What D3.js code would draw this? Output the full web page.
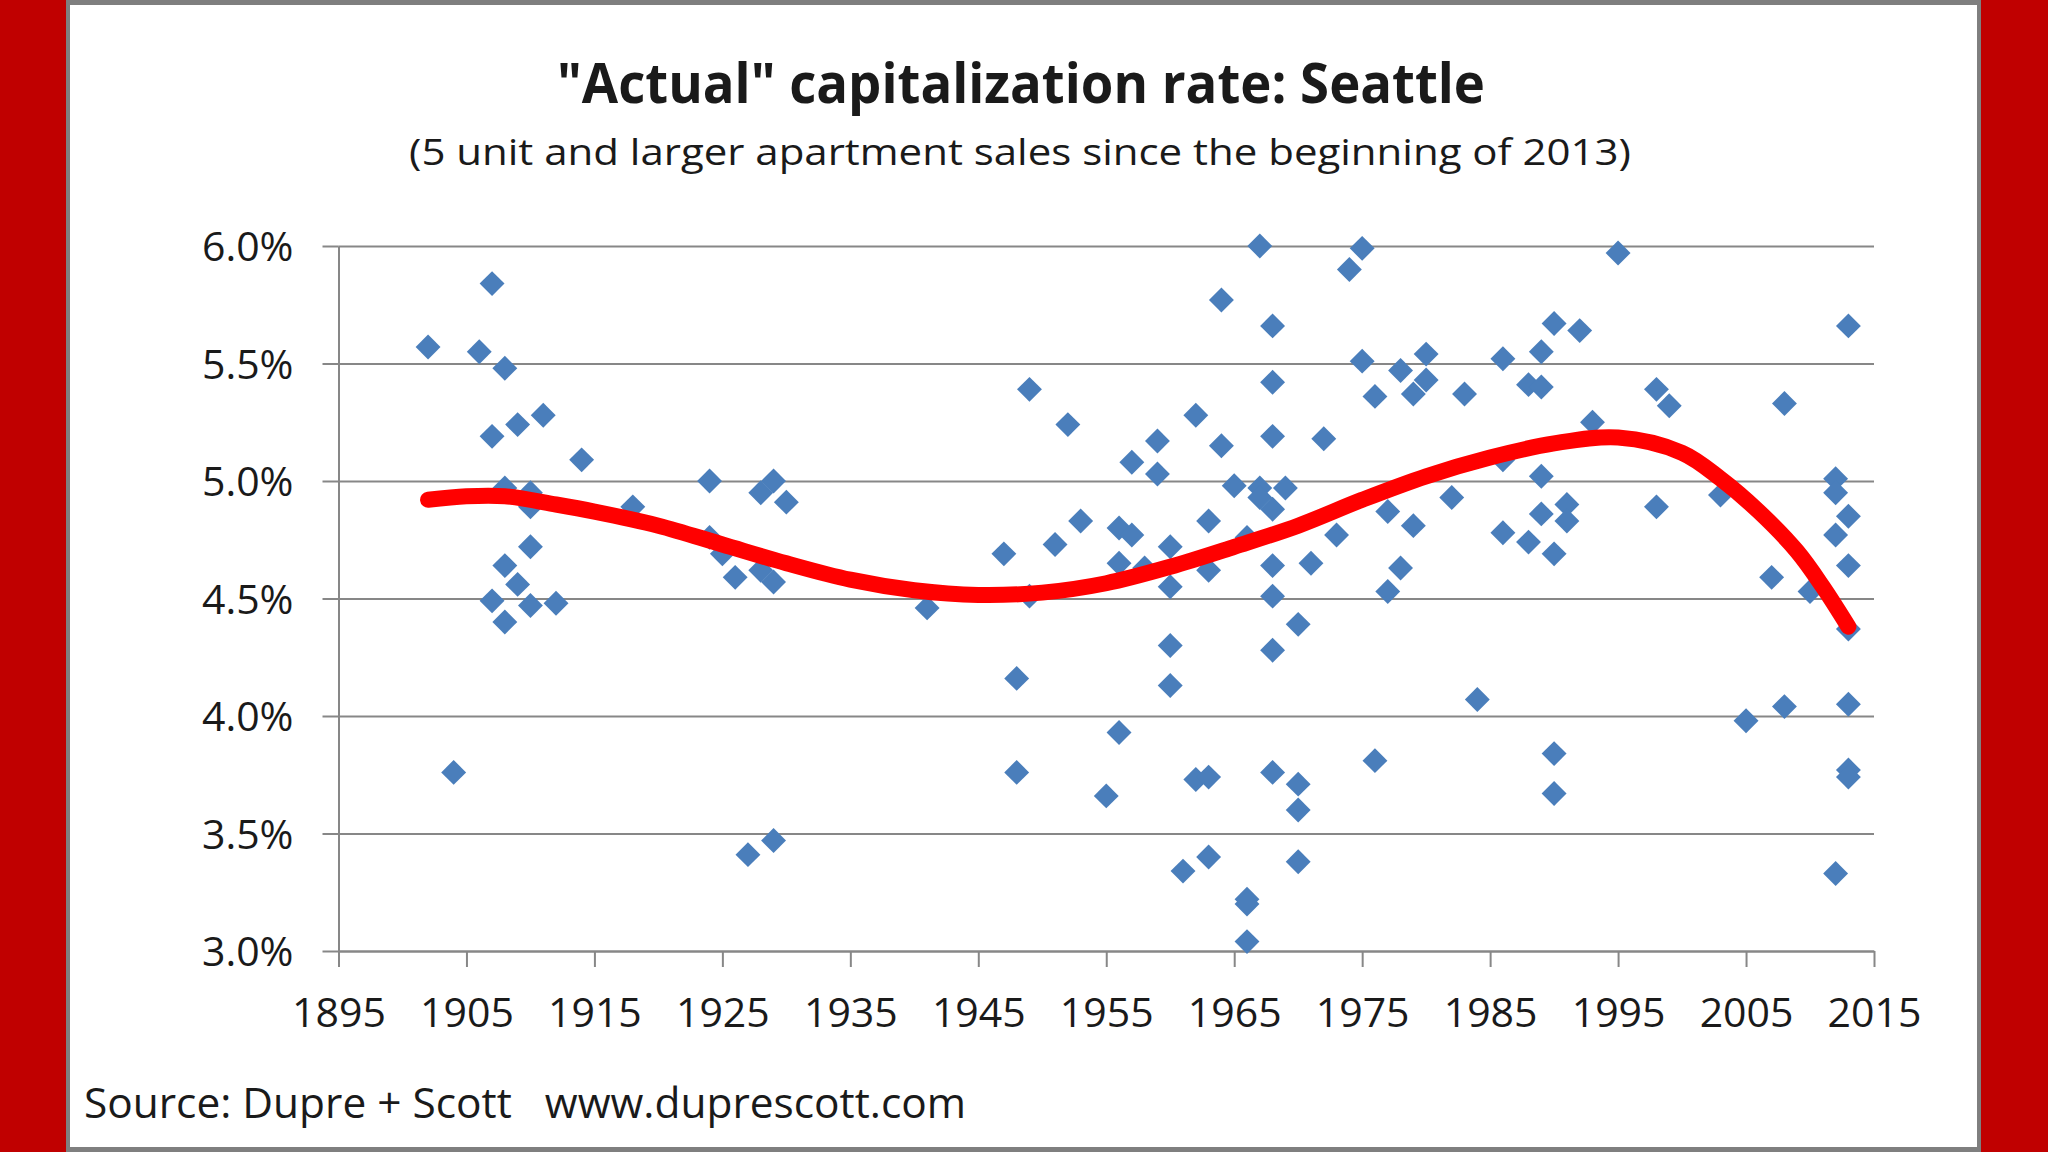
<!DOCTYPE html>
<html>
<head>
  <meta charset="utf-8">
  <title>"Actual" capitalization rate: Seattle</title>
  <script src="https://d3js.org/d3.v7.min.js"></script>
  <style>
    body { margin: 0; background: #c00000; }
    text { font-family: "Open Sans", "DejaVu Sans", sans-serif; fill: #1a1a1a; }
    .grid line { stroke: #878787; stroke-width: 2px; }
    .axis path, .axis line { stroke: #878787; stroke-width: 2px; }
    .axis text { font-size: 41px; fill: #1a1a1a; }
  </style>
</head>
<body>
  <svg width="2048" height="1152"></svg>

  <script>
    // sale points: year built, cap rate (%)
    const saleYears = [
      1902, 1904, 1906, 1907, 1907, 1907, 1908, 1908, 1908, 1908,
      1909, 1909, 1910, 1910, 1910, 1910, 1911, 1912, 1914, 1918,
      1924, 1924, 1925, 1926, 1928, 1928, 1929, 1929, 1930, 1927, 1929,
      1941, 1947, 1948, 1948, 1949, 1949, 1951, 1952, 1953, 1955,
      1956, 1956, 1956, 1957, 1957, 1958, 1959, 1959, 1960, 1960,
      1960, 1960, 1961, 1962, 1962, 1963, 1963, 1963, 1963, 1964,
      1964, 1965, 1966, 1966, 1966, 1966, 1967, 1967, 1967, 1968,
      1968, 1968, 1968, 1968, 1968, 1968, 1968, 1969, 1970, 1970,
      1970, 1970, 1971, 1972, 1973, 1974, 1975, 1975, 1976, 1976,
      1977, 1977, 1978, 1978, 1979, 1979, 1980, 1980, 1982, 1983,
      1984, 1986, 1986, 1986, 1988, 1988, 1989, 1989, 1989, 1989,
      1990, 1990, 1990, 1990, 1991, 1991, 1992, 1993, 1995, 1998,
      1998, 1999, 2003, 2005, 2007, 2008, 2008, 2010, 2012, 2012,
      2012, 2012, 2013, 2013, 2013, 2013, 2013, 2013, 2013
    ];
    const capRates = [
      5.57, 3.76, 5.55, 5.84, 5.19, 4.49, 5.48, 4.97, 4.64, 4.40,
      5.24, 4.56, 4.95, 4.89, 4.72, 4.47, 5.28, 4.48, 5.09, 4.89,
      5.00, 4.76, 4.69, 4.59, 4.95, 4.62, 5.00, 4.57, 4.91, 3.41, 3.47,
      4.46, 4.69, 4.16, 3.76, 5.39, 4.51, 4.73, 5.24, 4.83, 3.66,
      4.80, 4.65, 3.93, 5.08, 4.77, 4.63, 5.17, 5.03, 4.72, 4.55,
      4.30, 4.13, 3.34, 5.28, 3.73, 3.74, 4.83, 4.62, 3.40, 5.77,
      5.15, 4.98, 4.76, 3.22, 3.20, 3.04, 6.00, 4.97, 4.93, 5.66,
      5.42, 5.19, 4.88, 4.64, 4.51, 4.28, 3.76, 4.97, 4.39, 3.71,
      3.60, 3.38, 4.65, 5.18, 4.77, 5.90, 5.99, 5.51, 5.36, 3.81,
      4.87, 4.53, 5.47, 4.63, 5.37, 4.81, 5.54, 5.43, 4.93, 5.37,
      4.07, 5.52, 5.09, 4.78, 5.41, 4.74, 5.55, 5.40, 5.02, 4.86,
      5.67, 4.69, 3.84, 3.67, 4.90, 4.83, 5.64, 5.25, 5.97, 5.39,
      4.89, 5.32, 4.94, 3.98, 4.59, 5.33, 4.04, 4.53, 5.01, 4.95,
      4.77, 3.33, 5.66, 4.85, 4.64, 4.37, 4.05, 3.77, 3.74
    ];

    // polynomial trend line as drawn in the original
    const trendYears = [1902, 1905, 1908, 1912, 1915, 1920, 1925, 1930, 1935, 1940,
      1945, 1950, 1955, 1960, 1965, 1970, 1975, 1980, 1985, 1990,
      1995, 2000, 2003, 2006, 2009, 2011, 2013];
    const trendRates = [4.92, 4.935, 4.935, 4.90, 4.87, 4.81, 4.73, 4.65, 4.58, 4.535,
      4.515, 4.525, 4.565, 4.635, 4.72, 4.81, 4.92, 5.02, 5.10, 5.16,
      5.185, 5.12, 5.01, 4.87, 4.70, 4.55, 4.38];

    const xTicks = d3.range(1895, 2016, 10);
    const yTicks = [3.0, 3.5, 4.0, 4.5, 5.0, 5.5, 6.0];

    const title = "\"Actual\" capitalization rate: Seattle";
    const subtitle = "(5 unit and larger apartment sales since the beginning of 2013)";
    const source = "Source: Dupre + Scott   www.duprescott.com";

    const svg = d3.select("svg");

    // frame: red page, grey border, white chart area
    svg.append("rect").attr("width", 2048).attr("height", 1152).attr("fill", "#c00000");
    svg.append("rect").attr("x", 66).attr("y", 0).attr("width", 1915).attr("height", 1152).attr("fill", "#7f7f7f");
    svg.append("rect").attr("x", 70).attr("y", 5).attr("width", 1907).attr("height", 1142).attr("fill", "#ffffff");

    const plotLeft = 338.5, plotRight = 1874, plotTop = 246, plotBottom = 951;

    const x = d3.scaleLinear().domain([1895, 2015]).range([plotLeft, plotRight]);
    const y = d3.scaleLinear().domain([3, 6]).range([plotBottom, plotTop]);

    // horizontal gridlines
    svg.append("g")
      .attr("class", "grid")
      .attr("transform", `translate(${plotLeft},0)`)
      .call(d3.axisLeft(y).tickValues(yTicks).tickSize(-(plotRight - plotLeft)).tickFormat(""))
      .call(g => g.select(".domain").remove());

    svg.append("g")
      .attr("class", "axis")
      .attr("transform", `translate(${plotLeft},0)`)
      .call(d3.axisLeft(y).tickValues(yTicks).tickSize(16).tickSizeOuter(0)
        .tickPadding(29).tickFormat(d => d.toFixed(1) + "%"))
      .call(g => g.selectAll("text").attr("dy", "0.36em"));

    svg.append("g")
      .attr("class", "axis")
      .attr("transform", `translate(0,${plotBottom})`)
      .call(d3.axisBottom(x).tickValues(xTicks).tickSize(16).tickSizeOuter(0)
        .tickPadding(31).tickFormat(d3.format("d")));

    // points
    const points = saleYears.map((yr, i) => ({ year: yr, rate: capRates[i] }));
    svg.append("g")
      .selectAll("path")
      .data(points)
      .enter().append("path")
      .attr("d", d3.symbol(d3.symbolSquare, 310))
      .attr("transform", d => `translate(${x(d.year)},${y(d.rate)}) rotate(45)`)
      .attr("fill", "#4a7ebb");

    // trend line
    const trend = trendYears.map((yr, i) => ({ year: yr, rate: trendRates[i] }));
    svg.append("path")
      .datum(trend)
      .attr("fill", "none")
      .attr("stroke", "#ff0000")
      .attr("stroke-width", 16)
      .attr("stroke-linecap", "round")
      .attr("stroke-linejoin", "round")
      .attr("d", d3.line().x(d => x(d.year)).y(d => y(d.rate)).curve(d3.curveCatmullRom));

    // titles
    svg.append("text")
      .attr("x", 557).attr("y", 103)
      .attr("font-size", 56).attr("font-weight", 700)
      .attr("textLength", 928).attr("lengthAdjust", "spacingAndGlyphs")
      .text(title);

    svg.append("text")
      .attr("x", 409).attr("y", 165)
      .attr("font-size", 37)
      .attr("textLength", 1222).attr("lengthAdjust", "spacingAndGlyphs")
      .text(subtitle);

    svg.append("text")
      .attr("x", 84).attr("y", 1118)
      .attr("font-size", 42)
      .style("white-space", "pre")
      .attr("textLength", 882).attr("lengthAdjust", "spacingAndGlyphs")
      .text(source);
  </script>
</body>
</html>
